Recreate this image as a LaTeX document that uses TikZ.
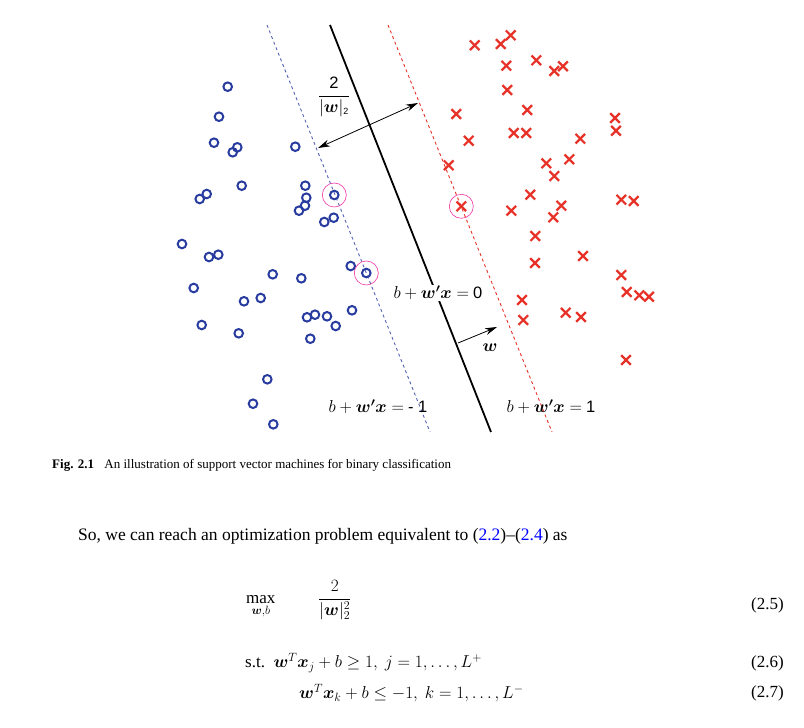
\documentclass[tikz,border=0pt]{standalone}
\usepackage{amsmath,amssymb,bm}
\usepackage{fontspec}
\setmainfont{Liberation Serif}
\setsansfont{Liberation Sans}
\usetikzlibrary{arrows.meta}
\begin{document}
\begin{tikzpicture}[x=1pt,y=-1pt,
  sv/.style={draw=magenta!80, line width=0.6pt, circle, minimum size=24pt, inner sep=0pt},
  lab/.style={font=\fontsize{16.5}{19}\selectfont, inner sep=1pt},
  eq/.style={font=\fontsize{17}{20}\selectfont, inner sep=0}]
\definecolor{xred}{RGB}{230,50,40}
\definecolor{oblue}{RGB}{40,60,160}
\useasboundingbox (0,0) rectangle (804,728);
% lines
\coordinate (s1) at (330,25); \coordinate (s2) at (491,432);
\coordinate (b1) at (267,25); \coordinate (b2) at (430,432);
\coordinate (r1) at (388,25); \coordinate (r2) at (552,432);
\draw[line width=1.8pt] (s1) -- (s2);
\draw[oblue!80, dashed, line width=0.9pt] (b1) -- (b2);
\draw[xred, dashed, line width=0.9pt] (r1) -- (r2);
% circles
\foreach \x/\y in {227.7/86.7,219/116.7,214/142.7,237.3/147.3,232.7/152.3,295.3/146.7,305.3/185.7,334.3/195,306.3/197.7,305/205.7,299/210.7,333.7/217.7,324.3/222,206.7/194,199.7/199,241.7/185.7,182/244,218.3/254.7,209/257,272.7/274.3,301.3/278.3,350.7/266,366.3/273,193.7/288,244/301.3,260.7/298,307/317.3,315/314.7,327/316.3,335.7/326,352/310.3,201.7/325,238.7/333.3,310.3/338.7,267.3/379.3,253/403.7,273.3/424.3}
  \draw[oblue, line width=2pt] (\x,\y) circle (4.3);
% crosses
\foreach \x/\y in {474.7/45.3,500.7/44,510.7/35.3,506.3/65.7,536.3/60.3,554.3/71,563/66.3,507.3/90,456.3/114,527.3/110,615/118,616/130.7,468.7/140.7,513.7/133,526.3/133,580.3/138.7,448.7/165.3,546.3/163.3,569.3/159.3,554.3/176,461.3/206.3,530.3/194.7,511.3/210.7,561.3/205.7,553.3/217.3,621.3/199.7,633.7/201,535.3/236,583/256,535/263,621.3/275,626.7/292,639.3/295.3,649/296.7,522/300,523.3/320,565.7/312.7,581/317,626/360}
  \draw[xred, line width=2.2pt] (\x-4.8,\y-4.8) -- (\x+4.8,\y+4.8) (\x-4.8,\y+4.8) -- (\x+4.8,\y-4.8);
% support vectors
\node[sv] (sv1) at (334.3,195) {};
\node[sv] (sv2) at (366.3,273) {};
\node[sv] (sv3) at (461.3,206.3) {};
% margin arrow
\coordinate (ma) at (318,148); \coordinate (mb) at (418,103);
\draw[{Stealth[length=12pt,width=7pt]}-{Stealth[length=12pt,width=7pt]}, line width=0.8pt] (ma) -- (mb);
\node[lab] (frac) at (334,97) {$\dfrac{\textsf{2}}{|\bm{w}|_{\textsf{\small 2}}}$};
% w arrow
\coordinate (wa) at (458,343); \coordinate (wb) at (497,327);
\draw[-{Stealth[length=12pt,width=7pt]}, line width=0.8pt] (wa) -- (wb);
\node[lab] (wl) at (490,348) {$\bm{w}$};
\node[lab,fill=white] (l0) at (438,293) {$b + \bm{w'x} = $ \textsf{0}};
\node[lab] (lm) at (378,407) {$b + \bm{w'x} = $ \textsf{- 1}};
\node[lab] (lp) at (551,407) {$b + \bm{w'x} = $ \textsf{1}};
% caption
\node[anchor=west, font=\fontsize{13}{15}\selectfont, inner sep=0] (cap) at (52,465) {\textbf{Fig. 2.1}\hspace{0.8em}An illustration of support vector machines for binary classification};
\node[anchor=west, font=\fontsize{17.5}{20}\selectfont, inner sep=0] (body) at (78,536) {So, we can reach an optimization problem equivalent to (\textcolor{blue}{2.2})–(\textcolor{blue}{2.4}) as};
% equations
\node[eq, anchor=west] (e1a) at (246,607) {$\displaystyle\max_{\bm{w},b}$};
\node[eq, anchor=west] (e1b) at (318,600) {$\dfrac{2}{|\bm{w}|_2^2}$};
\node[eq, anchor=west] (e2) at (245,663) {s.t.\ \ $\bm{w}^T\bm{x}_j + b \ge 1,\ j = 1,\ldots,L^+$};
\node[eq, anchor=west] (e3) at (299,693) {$\bm{w}^T\bm{x}_k + b \le -1,\ k = 1,\ldots,L^-$};
\node[eq, anchor=east] (n1) at (784,605) {(2.5)};
\node[eq, anchor=east] (n2) at (784,663) {(2.6)};
\node[eq, anchor=east] (n3) at (784,693) {(2.7)};
\end{tikzpicture}
\end{document}
